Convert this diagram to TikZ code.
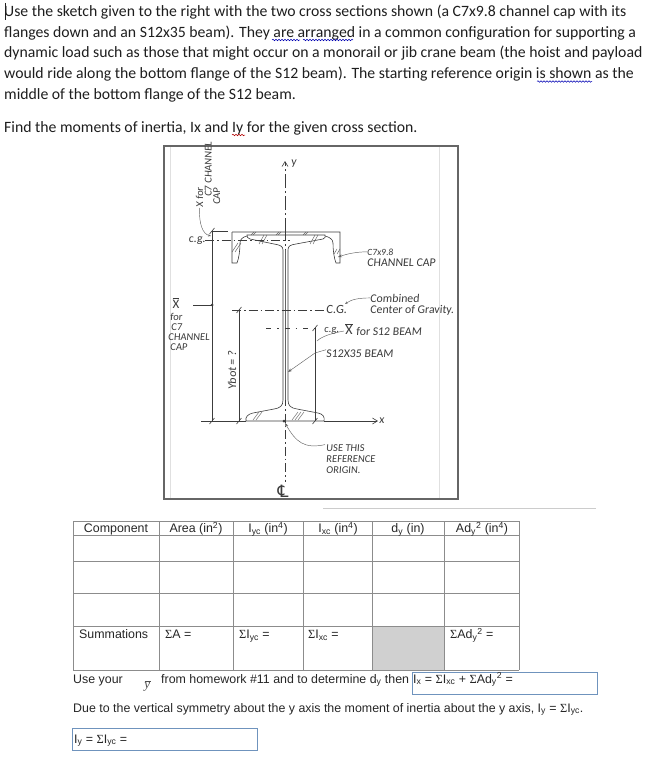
\documentclass[tikz,border=0pt]{standalone}
\usepackage{fontspec}
\usepackage{xcolor}
\setmainfont{Carlito}
\newfontfamily\tablefont{Liberation Sans}
\newfontfamily\sigfont{Liberation Serif}
\newfontfamily\handfont[FakeSlant=0.08]{Carlito}
\newfontfamily\clfont{DejaVu Sans}
\usetikzlibrary{positioning,arrows.meta,decorations.pathmorphing}
\definecolor{pagetext}{HTML}{1E1E1E}
\definecolor{pencil}{HTML}{3C3C3C}
\definecolor{boxblue}{HTML}{6F93BD}
\definecolor{gridgray}{HTML}{8C8C8C}
\definecolor{cellgray}{HTML}{D0D0D0}
\newcommand{\sumsym}{{\sigfont Σ}}
\newcommand{\sbs}[1]{\textsubscript{#1}}
\newcommand{\sps}[1]{\textsuperscript{#1}}
\tikzset{
  body/.style={anchor=base west,inner sep=0pt,text=pagetext,font=\fontsize{15.75}{17}\selectfont},
  tabletext/.style={anchor=base west,inner sep=0pt,text=black!85,font=\tablefont\fontsize{12.4}{14}\selectfont},
  tablehead/.style={anchor=base,inner sep=0pt,text=black!85,font=\tablefont\fontsize{12.4}{14}\selectfont},
  hand/.style={anchor=base west,inner sep=0pt,text=pencil,font=\handfont\fontsize{11.8}{10}\selectfont},
  smallhand/.style={hand,font=\handfont\fontsize{10.5}{10}\selectfont},
  rothand/.style={hand,rotate=90,font=\handfont\fontsize{10.5}{10}\selectfont},
  sketch/.style={draw=pencil,line width=.6pt},
  thin sketch/.style={draw=pencil!80,line width=.45pt},
  center line/.style={sketch,dash pattern=on 9pt off 3pt on 1.5pt off 3pt},
  grid line/.style={draw=gridgray,line width=.9pt},
  answer box/.style={draw=boxblue,line width=1pt},
  squiggle/.style={decorate,decoration={snake,amplitude=.8pt,segment length=3pt},line width=.5pt}
}

\begin{document}
\begin{tikzpicture}[x=1pt,y=-1pt]
  \useasboundingbox (0,0) rectangle (654,773);

  % problem statement
  \draw[pagetext,line width=.7pt] (5,3) -- (5,20);
  \node[body] (line1) at (4,17) {Use the sketch given to the right with the two cross sections shown (a C7x9.8 channel cap with its};
  \node[body] (line2) at (4,38) {flanges down and an S12x35 beam). They are arranged in a common configuration for supporting a};
  \node[body] (line3) at (4,58) {dynamic load such as those that might occur on a monorail or jib crane beam (the hoist and payload};
  \node[body] (line4) at (4,79) {would ride along the bottom flange of the S12 beam). The starting reference origin is shown as the};
  \node[body] (line5) at (4,100) {middle of the bottom flange of the S12 beam.};
  \node[body] (line6) at (4,132) {Find the moments of inertia, Ix and Iy for the given cross section.};
  \draw[squiggle,blue!70!black] (272,40) -- (300,40);
  \draw[squiggle,blue!70!black] (303,40) -- (353,40);
  \draw[squiggle,blue!70!black] (537,81.5) -- (592,81.5);
  \draw[squiggle,red!70!black] (232,135) -- (245,135);

  % sketch frame
  \draw[draw=black!60,line width=1.3pt] (164,146) rectangle (458,499);
  \draw[black!12,line width=.6pt] (170,147) -- (170,498);
  \draw[black!12,line width=.6pt] (439,147) -- (439,498);
  \draw[black!20,line width=.8pt] (323,508) -- (596,508);

  % axes
  \coordinate (ytop) at (285,161);
  \coordinate (ybot) at (285,482);
  \coordinate (xleft) at (201,421);
  \coordinate (xright) at (378,421);
  \draw[sketch,dash pattern=on 14pt off 3pt on 2pt off 3pt,-{Straight Barb[length=5pt,width=6pt]}] (285,232) -- (ytop);
  \draw[center line] (285,232) -- (ybot);
  \draw[sketch] (xleft) -- (246,421);
  \draw[sketch,-{Straight Barb[length=5pt,width=6pt]}] (324,421) -- (xright);
  \node[hand,anchor=west] (ylabel) at (291,164) {y};
  \node[hand,anchor=west] (xlabel) at (379,420.5) {x};
  \node[hand,anchor=center,font=\clfont\fontsize{17}{17}\selectfont] (cl) at (283,491) {℄};
  \fill[pencil] (284,421) circle (1.5);

  % S12 beam
  \draw[sketch] (283,400) -- (283,250) .. controls (283,246) and (280,245) .. (274,244)
    -- (250,239) .. controls (248,238) and (246,237) .. (247,235) -- (325,235)
    .. controls (326,237) and (325,238) .. (323,239) -- (296,244)
    .. controls (290,245) and (288,246) .. (288,250) -- (288,400)
    .. controls (288,406) and (291,408) .. (297,409) -- (318,413)
    .. controls (323,414) and (325,417) .. (324,421) -- (246,421)
    .. controls (245,417) and (248,414) .. (253,413) -- (274,409)
    .. controls (280,408) and (283,406) .. (283,400) -- cycle;
  \draw[thin sketch] (285.5,250) -- (285.5,400);

  % channel cap
  \draw[sketch] (232,232) -- (340,232) -- (340,263) -- (336,263)
    .. controls (334,258) and (333,250) .. (333,243)
    .. controls (333,239) and (329,237) .. (325,236);
  \draw[sketch] (232,232) -- (232,263) -- (237,263)
    .. controls (239,258) and (240,250) .. (240,243)
    .. controls (240,239) and (243,237) .. (247,236);

  % hatching
  \foreach \hx in {251,253,276,278,303,305} {
    \draw[thin sketch] (\hx,235) -- (\hx+3,232);
  }
  \foreach \hx in {259,262,310,313} {
    \draw[thin sketch] (\hx,244) -- (\hx+5,235);
  }
  \foreach \hx in {232,235} {
    \draw[thin sketch] (\hx,252) -- (\hx+6,243);
  }
  \foreach \hx in {334,337} {
    \draw[thin sketch] (\hx,254) -- (\hx+3,249);
  }
  \foreach \hx in {253,256,292,295,298} {
    \draw[thin sketch] (\hx,420) -- (\hx+6,412);
  }

  % dimension lines
  \draw[sketch] (212,232) -- (212,421);
  \draw[sketch] (212,231) -- (228,231);
  \draw[sketch] (239,310) -- (239,421);
  \draw[sketch] (315,328) -- (315,421);
  \foreach \dx in {212,239,315} {
    \draw[sketch] (\dx-2.5,424) -- (\dx+2.5,418);
  }
  \draw[sketch] (209.5,234) -- (214.5,228);
  \draw[sketch] (236.5,313) -- (241.5,307);
  \draw[sketch] (312.5,331) -- (317.5,325);
  \draw[center line] (205,240) -- (290,240);
  \draw[center line] (232,310) -- (325,310);
  \draw[center line,dash pattern=on 5pt off 6pt on 1.5pt off 6pt] (266,328) -- (318,328);

  % channel labels
  \node[rothand] (xfor) at (203,208) {X for};
  \node[rothand] (cname) at (211.5,197) {C7 CHANNEL};
  \node[rothand] (cpart) at (220,205) {CAP};
  \draw[thin sketch,-{Stealth[length=3pt]}] (xfor.west) .. controls (199,225) and (203,234) .. (211,236);
  \node[hand,anchor=center] (cgtop) at (197,241) {c.g.};
  \node[hand] (capone) at (367,255) {\fontsize{9.5}{9}\selectfont C7x9.8};
  \node[hand] (captwo) at (367,266) {CHANNEL CAP};
  \draw[thin sketch,-{Stealth[length=4pt]}] (capone.west) .. controls (355,252) and (347,254) .. (338,257);

  % centre of gravity labels
  \node[hand] (cgmain) at (326,313) {\fontsize{12.5}{12}\selectfont C.G.};
  \node[hand] (comb) at (370,302) {Combined};
  \node[hand] (grav) at (370,313) {Center of Gravity.};
  \draw[thin sketch,-{Stealth[length=3pt]}] (comb.west) .. controls (360,298) and (352,299) .. (345,304);
  \node[hand,anchor=center,font=\handfont\fontsize{13}{13}\selectfont] (xbar) at (176,303) {$\overline{\mathrm{X}}$};
  \draw[sketch] (193,305) -- (212,305);
  \fill[pencil] (212,305) circle (1.5);
  \node[smallhand] (leftfor) at (170,320) {for};
  \node[smallhand] (leftc) at (171,330) {C7};
  \node[smallhand] (leftchan) at (168,340) {CHANNEL};
  \node[smallhand] (leftcap) at (170,350) {CAP};
  \node[hand,rotate=90] (ybotlab) at (236,390) {Ybot = ?};

  % beam labels
  \node[smallhand] (cgbeam) at (324,332) {c.g.};
  \node[hand,anchor=center,font=\handfont\fontsize{14}{14}\selectfont] (xbarb) at (349,329) {$\overline{\mathrm{X}}$};
  \node[hand] (beamfor) at (356,335) {for S12 BEAM};
  \draw[thin sketch] (317,341) .. controls (322,336) and (333,333) .. (344,331);
  \node[hand] (beamname) at (326,357) {S12X35 BEAM};
  \draw[thin sketch,-{Stealth[length=4pt]}] (beamname.west) ++(0,-3.5) -- (315,353) -- (288,372);
  \node[smallhand] (useone) at (326,451) {USE THIS};
  \node[smallhand] (usetwo) at (326,462) {REFERENCE};
  \node[smallhand] (usethree) at (326,473) {ORIGIN.};
  \draw[thin sketch,-{Stealth[length=4pt]}] (useone.west) ++(-1,-3) .. controls (304,449) and (296,442) .. (285,423);

  % table
  \fill[cellgray] (372,626) rectangle (444,670);
  \foreach \ry in {521,535,561,593,626,670} {
    \draw[grid line] (73,\ry) -- (519,\ry);
  }
  \foreach \cx in {73,159,233,303,372,444,519} {
    \draw[grid line] (\cx,521) -- (\cx,670);
  }
  \node[tablehead] (hcomp) at (116,532.5) {Component};
  \node[tablehead] (harea) at (196,532.5) {Area (in\sps{2})};
  \node[tablehead] (hiyc) at (268,532.5) {I\sbs{yc} (in\sps{4})};
  \node[tablehead] (hixc) at (338,532.5) {I\sbs{xc} (in\sps{4})};
  \node[tablehead] (hdy) at (408,532.5) {d\sbs{y} (in)};
  \node[tablehead] (hady) at (482,532.5) {Ad\sbs{y}\sps{2} (in\sps{4})};
  \node[tabletext] (ssum) at (79,638.5) {Summations};
  \node[tabletext] (sarea) at (165,638.5) {\sumsym A =};
  \node[tabletext] (siyc) at (239,638.5) {\sumsym I\sbs{yc} =};
  \node[tabletext] (sixc) at (308,638.5) {\sumsym I\sbs{xc} =};
  \node[tabletext] (sady) at (450,638.5) {\sumsym Ad\sbs{y}\sps{2} =};

  % answer lines
  \node[tabletext] (useyour) at (73,683) {Use your};
  \node[tabletext,text=black!70,font=\sigfont\itshape\fontsize{13}{13}\selectfont] (ybar) at (144.5,688) {$\overline{\phantom{y}}$\kern-.5em y};
  \node[tabletext] (fromhw) at (161,683) {from homework \#11 and to determine d\sbs{y} then};
  \draw[answer box] (412,672) rectangle (597,694);
  \node[tabletext] (ixans) at (413,683) {I\sbs{x} = \sumsym I\sbs{xc} + \sumsym Ad\sbs{y}\sps{2} =};
  \node[tabletext] (duesym) at (73,712) {Due to the vertical symmetry about the y axis the moment of inertia about the y axis, I\sbs{y} = \sumsym I\sbs{yc}.};
  \draw[answer box] (72,728) rectangle (257,750);
  \node[tabletext] (iyans) at (74,743) {I\sbs{y} = \sumsym I\sbs{yc} =};
\end{tikzpicture}
\end{document}
